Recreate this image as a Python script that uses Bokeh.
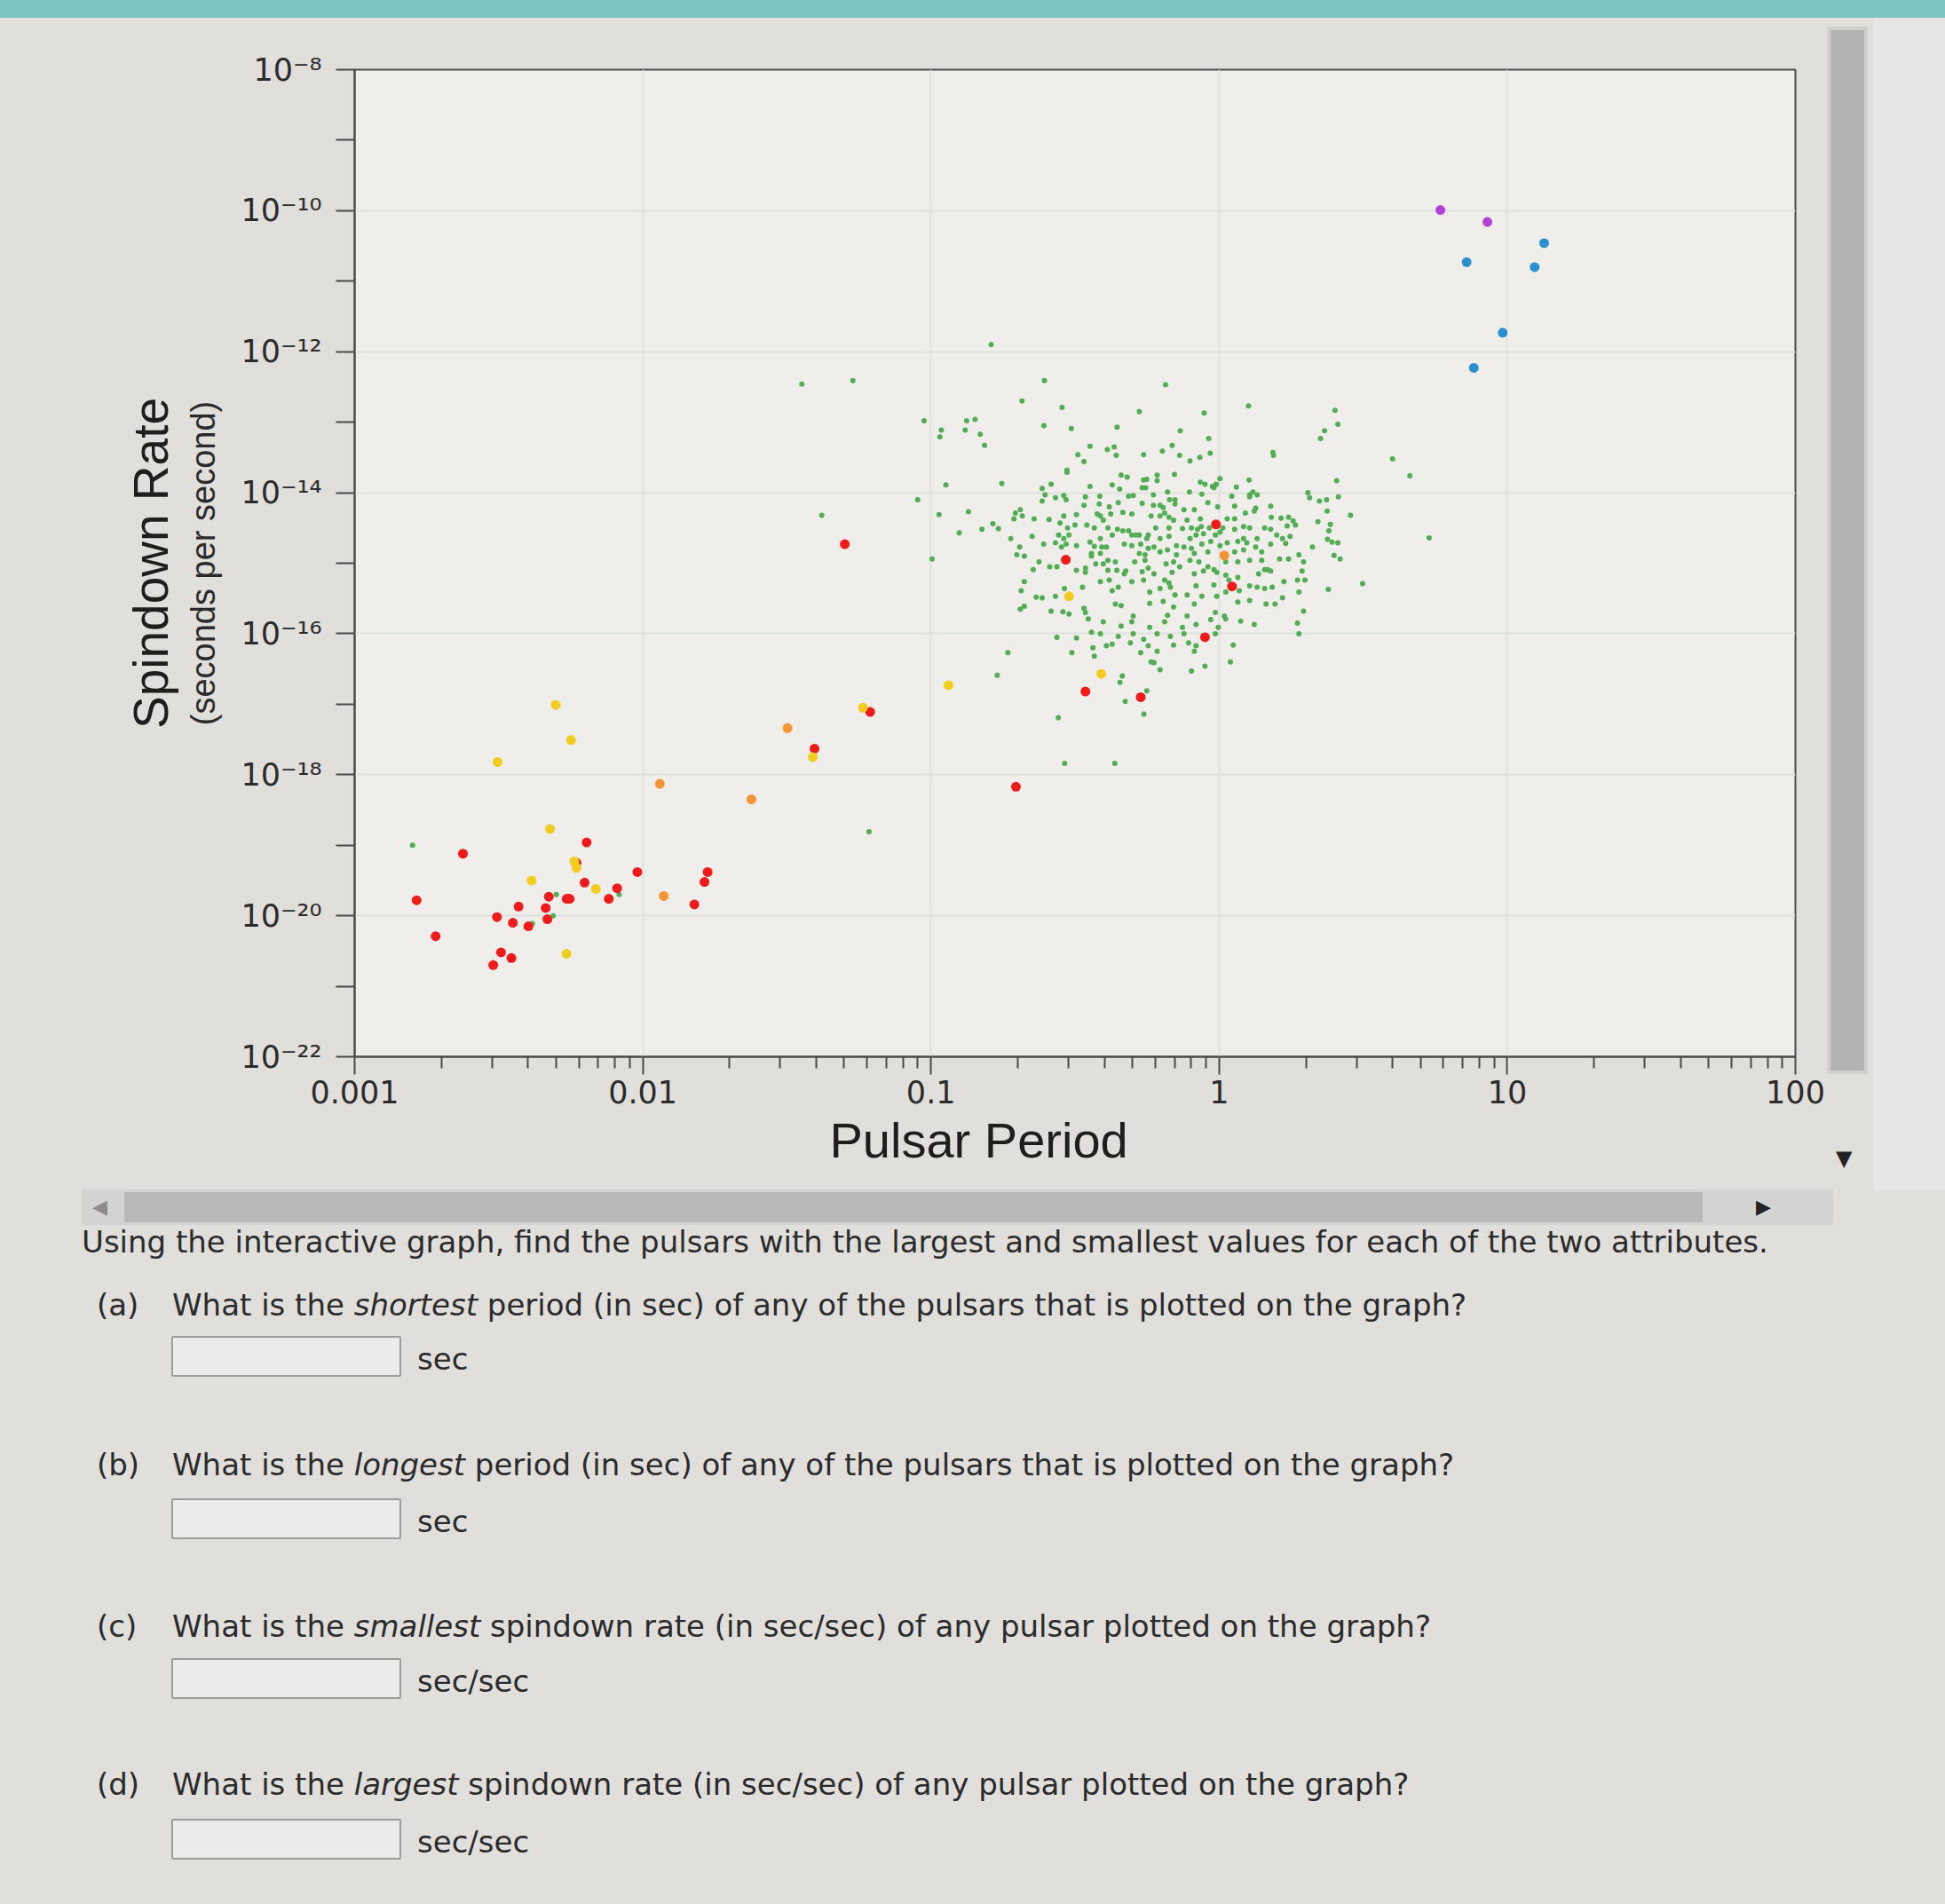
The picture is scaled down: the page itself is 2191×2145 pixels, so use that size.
import math
from bokeh.plotting import figure
from bokeh.models import FixedTicker, CustomJSTickFormatter, Title, Range1d, Div
from bokeh.layouts import column, row
from bokeh.embed import file_html
from bokeh.resources import INLINE

# ---------------------------------------------------------------------------
# DATA  (log10 of pulsar period [s], log10 of spindown rate [s/s])
# ---------------------------------------------------------------------------
normal_log10 = [  # green: ordinary pulsars
    (-1.448, -12.46), (-1.271, -12.41), (-1.379, -14.32), (-1.215, -18.81), (-2.799, -19.00),
    (-2.082, -19.70), (-2.300, -19.70), (-2.311, -20.00), (-2.383, -20.11),
    (-0.791, -11.90), (-0.606, -12.41), (-0.186, -12.47), (-0.684, -12.70), (-0.545, -12.79),
    (-0.277, -12.85), (-1.024, -12.98), (-0.876, -12.98), (-0.847, -12.96), (-0.964, -13.11),
    (-0.969, -13.21), (-0.881, -13.11), (-0.829, -13.17), (-0.814, -13.33), (-0.608, -13.05),
    (-0.513, -13.09), (-0.354, -13.07), (-0.135, -13.12), (-0.448, -13.34), (-0.388, -13.39),
    (-0.364, -13.35), (-0.197, -13.41), (-0.163, -13.33), (-0.948, -13.89), (-0.754, -13.87),
    (-1.046, -14.10), (-0.972, -14.31), (-0.870, -14.27), (-0.902, -14.57), (-0.823, -14.52),
    (-0.785, -14.44), (-0.766, -14.51), (-0.723, -14.65), (-0.707, -14.29), (-0.690, -14.24),
    (-0.712, -14.37), (-0.683, -14.33), (-0.692, -14.77), (-0.702, -14.88), (-0.676, -14.90),
    (-0.052, -12.87), (0.102, -12.77), (-0.036, -13.23), (0.402, -12.83), (0.412, -13.03),
    (0.366, -13.12), (0.352, -13.23), (0.602, -13.52), (0.662, -13.76), (0.408, -13.83),
    (0.348, -14.12), (0.373, -14.10), (0.414, -14.06), (0.375, -14.26), (0.456, -14.32),
    (0.343, -14.41), (0.386, -14.45), (0.381, -14.54), (0.376, -14.66), (0.392, -14.70),
    (0.412, -14.71), (0.729, -14.64),
    (-0.996, -14.94), (-0.676, -15.26), (-0.687, -15.39), (-0.690, -15.65), (-0.676, -15.61),
    (-0.733, -16.27), (-0.770, -16.59), (-0.336, -16.60), (-0.344, -16.69), (-0.251, -16.81),
    (-0.326, -16.96), (-0.261, -17.14), (-0.558, -17.19), (-0.536, -17.84), (-0.362, -17.84),
    (0.399, -14.89), (0.420, -14.94), (0.379, -15.37), (0.498, -15.29),
    (-0.490, -13.46), (-0.469, -13.56), (-0.357, -13.47), (-0.262, -13.46), (-0.137, -13.47),
    (-0.101, -13.55), (-0.067, -13.50), (-0.031, -13.44), (0.187, -13.43), (0.189, -13.47),
    (-0.528, -13.68), (-0.528, -13.71), (-0.340, -13.75), (-0.319, -13.78), (-0.262, -13.82),
    (-0.251, -13.81), (-0.215, -13.75), (-0.155, -13.74), (-0.065, -13.85), (-0.049, -13.88),
    (0.003, -13.80), (-0.010, -13.88), (-0.023, -13.91), (0.104, -13.82),
    (-0.614, -13.94), (-0.583, -13.88), (-0.604, -14.03), (-0.614, -14.12), (-0.568, -14.07),
    (-0.539, -14.04), (-0.531, -14.10), (-0.448, -13.91), (-0.464, -14.06), (-0.414, -14.05),
    (-0.371, -13.89), (-0.345, -13.95), (-0.314, -14.05), (-0.298, -14.04), (-0.267, -13.93),
    (-0.255, -13.93), (-0.228, -14.03), (-0.215, -13.83), (-0.179, -13.99), (-0.205, -14.18),
    (-0.153, -14.10), (-0.103, -13.99), (-0.060, -14.02), (-0.018, -13.93), (0.044, -14.05),
    (0.060, -13.92), (0.106, -14.03), (0.117, -13.99), (0.132, -14.03), (0.106, -14.06),
    (0.179, -14.19), (0.308, -14.00), (0.314, -14.07),
    (-0.469, -14.18), (-0.416, -14.16), (-0.381, -14.20), (-0.350, -14.14), (-0.267, -14.15),
    (-0.228, -14.18), (-0.194, -14.21), (-0.172, -14.10), (-0.153, -14.16), (-0.122, -14.24),
    (-0.086, -14.24), (-0.039, -14.14), (-0.005, -14.20), (0.054, -14.19), (0.091, -14.29),
    (0.122, -14.26), (0.127, -14.22), (-0.642, -14.37), (-0.590, -14.38), (-0.539, -14.33),
    (-0.495, -14.31), (-0.423, -14.30), (-0.412, -14.33), (-0.402, -14.39), (-0.376, -14.30),
    (-0.334, -14.28), (-0.303, -14.30), (-0.236, -14.33), (-0.205, -14.33), (-0.189, -14.29),
    (-0.174, -14.35), (-0.158, -14.39), (-0.111, -14.39), (-0.065, -14.37), (0.028, -14.37),
    (0.054, -14.37), (0.181, -14.35), (0.215, -14.36), (0.241, -14.35), (0.257, -14.40),
    (-0.552, -14.43), (-0.526, -14.50), (-0.500, -14.46), (-0.459, -14.46), (-0.433, -14.50),
    (-0.386, -14.50), (-0.353, -14.52), (-0.334, -14.54), (-0.314, -14.54), (-0.303, -14.60),
    (-0.277, -14.60), (-0.246, -14.60), (-0.220, -14.50), (-0.174, -14.50), (-0.174, -14.62),
    (-0.127, -14.51), (-0.096, -14.50), (-0.075, -14.52), (-0.062, -14.48), (-0.080, -14.60),
    (-0.054, -14.58), (-0.034, -14.50), (0.013, -14.50), (0.003, -14.56), (0.054, -14.52),
    (0.085, -14.48), (0.106, -14.50), (0.158, -14.50), (0.179, -14.52), (0.236, -14.47),
    (0.265, -14.46), (-0.649, -14.62), (-0.557, -14.60), (-0.539, -14.65), (-0.521, -14.60),
    (-0.412, -14.65), (-0.371, -14.60), (-0.288, -14.60), (-0.251, -14.65), (-0.205, -14.65),
    (-0.101, -14.65), (-0.013, -14.60), (0.085, -14.65), (0.132, -14.65), (0.200, -14.60),
    (0.220, -14.65), (0.246, -14.62),
    (-0.609, -14.73), (-0.568, -14.71), (-0.547, -14.77), (-0.531, -14.73), (-0.495, -14.75),
    (-0.448, -14.70), (-0.433, -14.76), (-0.407, -14.77), (-0.391, -14.77), (-0.329, -14.73),
    (-0.303, -14.75), (-0.272, -14.73), (-0.246, -14.79), (-0.226, -14.77), (-0.179, -14.81),
    (-0.148, -14.75), (-0.122, -14.77), (-0.096, -14.79), (-0.060, -14.73), (-0.029, -14.69),
    (0.003, -14.75), (0.028, -14.71), (0.065, -14.69), (0.096, -14.71), (0.127, -14.77),
    (0.179, -14.73), (0.231, -14.72), (0.324, -14.77), (-0.443, -14.86), (-0.412, -14.86),
    (-0.277, -14.86), (-0.257, -14.88), (-0.205, -14.84), (-0.148, -14.88), (-0.086, -14.86),
    (-0.039, -14.84), (0.054, -14.84), (0.085, -14.81), (0.148, -14.84),
    (-0.625, -14.98), (-0.645, -15.09), (-0.588, -15.05), (-0.563, -15.05), (-0.495, -15.10),
    (-0.464, -15.07), (-0.443, -14.90), (-0.428, -15.01), (-0.402, -15.01), (-0.386, -14.96),
    (-0.360, -14.98), (-0.355, -15.10), (-0.324, -15.11), (-0.293, -14.98), (-0.257, -14.96),
    (-0.246, -15.07), (-0.184, -15.01), (-0.158, -14.98), (-0.137, -15.05), (-0.101, -14.96),
    (-0.070, -14.98), (-0.039, -15.05), (-0.018, -15.09), (0.023, -14.98), (0.065, -14.98),
    (0.106, -14.96), (0.148, -14.96), (0.168, -15.09), (0.210, -14.94), (0.241, -14.94),
    (0.277, -14.88), (0.293, -14.98), (-0.464, -15.13), (-0.386, -15.10), (-0.329, -15.15),
    (-0.267, -15.12), (-0.226, -15.15), (-0.189, -15.24), (-0.163, -15.13), (-0.086, -15.15),
    (-0.054, -15.11), (-0.008, -15.13), (0.023, -15.17), (0.065, -15.20), (0.137, -15.15),
    (0.158, -15.09), (0.179, -15.11), (0.288, -15.11),
    (-0.635, -15.48), (-0.614, -15.49), (-0.568, -15.47), (-0.537, -15.36), (-0.474, -15.34),
    (-0.412, -15.26), (-0.381, -15.24), (-0.371, -15.39), (-0.350, -15.34), (-0.303, -15.26),
    (-0.262, -15.24), (-0.241, -15.41), (-0.205, -15.36), (-0.174, -15.28), (-0.169, -15.34),
    (-0.153, -15.45), (-0.111, -15.45), (-0.080, -15.32), (-0.060, -15.47), (-0.018, -15.31),
    (-0.008, -15.47), (0.023, -15.41), (0.070, -15.39), (0.106, -15.32), (0.132, -15.34),
    (0.158, -15.36), (0.184, -15.34), (0.225, -15.26), (0.272, -15.24), (0.277, -15.41),
    (0.298, -15.24), (0.034, -15.24),
    (-0.583, -15.68), (-0.542, -15.69), (-0.521, -15.72), (-0.469, -15.64), (-0.464, -15.70),
    (-0.360, -15.58), (-0.340, -15.60), (-0.298, -15.75), (-0.241, -15.57), (-0.194, -15.54),
    (-0.158, -15.62), (-0.179, -15.74), (-0.111, -15.75), (-0.013, -15.70), (0.018, -15.75),
    (0.023, -15.79), (0.065, -15.55), (0.106, -15.53), (0.163, -15.58), (0.194, -15.58),
    (0.220, -15.49), (0.293, -15.68), (-0.086, -15.58),
    (-0.454, -15.79), (-0.402, -15.83), (-0.340, -15.89), (-0.303, -15.83), (-0.241, -15.91),
    (-0.189, -15.83), (-0.127, -15.91), (-0.080, -15.87), (-0.029, -15.80), (-0.003, -15.91),
    (0.075, -15.82), (0.122, -15.87), (0.272, -15.85), (0.277, -16.00), (-0.563, -16.05),
    (-0.495, -16.06), (-0.443, -15.98), (-0.412, -16.00), (-0.350, -16.04), (-0.298, -16.00),
    (-0.262, -16.08), (-0.215, -16.00), (-0.169, -16.04), (-0.122, -16.00), (-0.013, -16.00),
    (-0.511, -16.27), (-0.438, -16.20), (-0.433, -16.32), (-0.391, -16.17), (-0.371, -16.15),
    (-0.308, -16.13), (-0.272, -16.27), (-0.246, -16.17), (-0.215, -16.25), (-0.158, -16.16),
    (-0.106, -16.13), (-0.086, -16.25), (-0.080, -16.17), (0.049, -16.16), (-0.236, -16.40),
    (-0.226, -16.41), (-0.049, -16.46), (0.039, -16.40), (-0.096, -16.53), (-0.205, -16.51),
]

red_log10 = [
    (-1.299, -14.73), (-1.211, -17.11), (-1.404, -17.63), (-2.624, -19.12), (-2.195, -18.96),
    (-2.230, -19.25), (-2.019, -19.38), (-1.775, -19.38), (-1.786, -19.52), (-2.202, -19.53),
    (-2.089, -19.61), (-2.326, -19.73), (-2.264, -19.76), (-2.254, -19.76), (-2.118, -19.76),
    (-2.785, -19.78), (-2.431, -19.87), (-2.337, -19.89), (-1.821, -19.84), (-2.506, -20.02),
    (-2.331, -20.05), (-2.451, -20.10), (-2.397, -20.15), (-2.719, -20.29), (-2.492, -20.52),
    (-2.456, -20.60), (-2.519, -20.70), (-0.705, -18.17),
    (-0.532, -14.95), (-0.464, -16.82), (-0.272, -16.90), (-0.011, -14.45), (0.045, -15.33),
    (-0.049, -16.05),
]

yellow_log10 = [
    (-1.236, -17.05), (-1.410, -17.75), (-2.302, -17.01), (-2.249, -17.51), (-2.504, -17.82),
    (-0.939, -16.73), (-2.322, -18.77), (-2.238, -19.23), (-2.230, -19.32), (-2.386, -19.50),
    (-2.163, -19.62), (-2.265, -20.54), (-0.521, -15.47), (-0.409, -16.57),
]

orange_log10 = [(-1.498, -17.34), (-1.941, -18.13), (-1.623, -18.35), (-1.927, -19.72), (0.018, -14.89)]

blue_log10 = [(1.128, -10.46), (0.859, -10.73), (1.095, -10.80), (0.984, -11.73), (0.884, -12.23)]

magenta_log10 = [(0.768, -9.99), (0.931, -10.16)]

x_decades = [0.001, 0.01, 0.1, 1, 10, 100]
y_label_exponents = [-22, -20, -18, -16, -14, -12, -10, -8]

intro_text = ("Using the interactive graph, find the pulsars with the largest and smallest "
              "values for each of the two attributes.")
questions = [
    ("(a)", "What is the", "shortest", "period (in sec) of any of the pulsars that is plotted on the graph?", "sec"),
    ("(b)", "What is the", "longest", "period (in sec) of any of the pulsars that is plotted on the graph?", "sec"),
    ("(c)", "What is the", "smallest", "spindown rate (in sec/sec) of any pulsar plotted on the graph?", "sec/sec"),
    ("(d)", "What is the", "largest", "spindown rate (in sec/sec) of any pulsar plotted on the graph?", "sec/sec"),
]

# ---------------------------------------------------------------------------
W = 2191
TEAL_H = 20
CHART_H = 1320
CHART_W = 2058
TEXT_H = 2145 - TEAL_H - CHART_H

BG = "#e0dfdc"
PLOT_BG = "#efeeea"
AXIS_C = "#4a4a4a"
TEXT_C = "#2b2b2b"

GREEN = "#52ad55"
RED = "#f01a1a"
YELLOW = "#f0cd1e"
ORANGE = "#f39532"
BLUE = "#2a8fd0"
MAGENTA = "#b540d8"


def unpack(pairs):
    return [10.0 ** a for a, _ in pairs], [10.0 ** b for _, b in pairs]


# top teal band
teal = Div(text="", width=W, height=TEAL_H, margin=0,
           styles={"background-color": "#7cc4c2"})

# main chart
p = figure(width=CHART_W, height=CHART_H, x_axis_type="log", y_axis_type="log",
           x_range=Range1d(1e-3, 1e2), y_range=Range1d(1e-22, 1e-8),
           output_backend="svg", toolbar_location=None,
           min_border_left=399, min_border_right=CHART_W - 2022, min_border_top=58,
           min_border_bottom=150)
p.background_fill_color = PLOT_BG
p.border_fill_color = BG
p.outline_line_color = AXIS_C
p.outline_line_width = 2

xax = p.xaxis[0]
yax = p.yaxis[0]
xax.ticker = FixedTicker(ticks=x_decades,
                         minor_ticks=[k * d for d in x_decades[:-1] for k in range(2, 10)])
yax.ticker = FixedTicker(ticks=[10.0 ** e for e in y_label_exponents],
                         minor_ticks=[10.0 ** (e + 1) for e in y_label_exponents[:-1]])
xax.formatter = CustomJSTickFormatter(code="""
const e = Math.round(Math.log10(tick));
return e < 0 ? tick.toFixed(-e) : String(Math.round(tick));
""")
yax.formatter = CustomJSTickFormatter(code="""
const e = Math.round(Math.log10(tick));
const sup = {"-": "\u207b", "0": "\u2070", "1": "\u00b9", "2": "\u00b2", "3": "\u00b3",
             "4": "\u2074", "5": "\u2075", "6": "\u2076", "7": "\u2077", "8": "\u2078", "9": "\u2079"};
let s = "";
for (const c of String(e)) { s += sup[c]; }
return "10" + s;
""")

for ax in (xax, yax):
    ax.axis_line_color = AXIS_C
    ax.axis_line_width = 2
    ax.major_tick_line_color = AXIS_C
    ax.major_tick_line_width = 2
    ax.minor_tick_line_color = AXIS_C
    ax.minor_tick_line_width = 2
    ax.major_tick_in = 0
    ax.minor_tick_in = 0
    ax.major_label_text_font = "DejaVu Sans"
    ax.major_label_text_font_size = "35px"
    ax.major_label_text_color = TEXT_C

yax.major_tick_out = 21
yax.minor_tick_out = 21
yax.major_label_standoff = 16
xax.major_tick_out = 20
xax.minor_tick_out = 13
xax.major_label_standoff = 6

yax.axis_label = "(seconds per second)"
yax.axis_label_text_font = "Liberation Sans"
yax.axis_label_text_font_size = "38px"
yax.axis_label_text_font_style = "normal"
yax.axis_label_text_color = TEXT_C
yax.axis_label_standoff = 18

p.add_layout(Title(text="Spindown Rate", align="center", text_font="Liberation Sans",
                   text_font_size="55px", text_font_style="normal", text_color="#1e1e1e"), "left")
p.add_layout(Title(text="Pulsar Period", align="left", offset=535, text_font="Liberation Sans",
                   text_font_size="56px", text_font_style="normal", text_color="#1e1e1e"), "below")

p.xgrid.grid_line_color = "#dfe1dc"
p.ygrid.grid_line_color = "#dfe1dc"
p.xgrid.grid_line_width = 2
p.ygrid.grid_line_width = 2

gx, gy = unpack(normal_log10)
p.scatter(gx, gy, size=6, fill_color=GREEN, line_color=None)
for pairs, col in ((red_log10, RED), (yellow_log10, YELLOW), (orange_log10, ORANGE),
                   (blue_log10, BLUE), (magenta_log10, MAGENTA)):
    xs, ys = unpack(pairs)
    p.scatter(xs, ys, size=11, fill_color=col, line_color=None)

# vertical scroll bar to the right of the graph
side_w = W - CHART_W
side_html = (f'<div style="position:relative;width:{side_w}px;height:{CHART_H}px;background:{BG};">'
             f'<div style="position:absolute;left:0px;top:10px;width:46px;height:1180px;'
             f'background:#cfcfce;"></div>'
             f'<div style="position:absolute;left:4px;top:14px;width:38px;height:1172px;'
             f'background:#b3b3b2;"></div>'
             f'<div style="position:absolute;left:52px;top:0px;width:{side_w - 52}px;height:{CHART_H}px;'
             f'background:#e6e6e5;"></div>'
             f'<div style="position:absolute;left:10px;top:1268px;font-size:24px;color:#222;'
             f'font-family:\'DejaVu Sans\';">&#9660;</div>'
             '</div>')
side = Div(text=side_html, width=side_w, height=CHART_H, margin=0)

# ---------------------------------------------------------------------------
# question panel below the graph (HTML text)
FS = 34
LH = 40


def txt(left, cy, content, extra=""):
    return (f'<div style="position:absolute;left:{left}px;top:{cy - LH // 2}px;'
            f'line-height:{LH}px;white-space:nowrap;{extra}">{content}</div>')


parts = []
parts.append('<div style="position:absolute;left:92px;top:0px;width:1973px;height:40px;'
             'background:#d3d3d2;"></div>')
parts.append('<div style="position:absolute;left:140px;top:3px;width:1778px;height:34px;'
             'background:#b9b9b8;"></div>')
parts.append(txt(104, 20, "&#9664;", "font-size:22px;color:#8c8c8c;"))
parts.append(txt(1978, 20, "&#9654;", "font-size:22px;color:#222;"))
parts.append(txt(92, 59, intro_text))

q_y = [130, 310, 492, 670]
box_top = [165, 348, 528, 709]
for (lab, pre, ital, post, unit), yy, bt in zip(questions, q_y, box_top):
    parts.append(txt(109, yy, lab))
    parts.append(txt(194, yy, f"{pre} <i>{ital}</i> {post}"))
    parts.append(f'<div style="position:absolute;left:193px;top:{bt}px;width:259px;height:46px;'
                 f'background:#ebebea;border:2px solid #9c9c9c;border-radius:2px;"></div>')
    parts.append(txt(470, bt + 26, unit))

html = (f'<div style="position:relative;width:{W}px;height:{TEXT_H}px;background:{BG};'
        f'font-family:\'DejaVu Sans\';font-size:{FS}px;color:{TEXT_C};overflow:hidden;">'
        + "".join(parts) + "</div>")

panel = Div(text=html, width=W, height=TEXT_H, margin=0)

layout = column(teal, row(p, side, spacing=0), panel, spacing=0,
                styles={"background-color": BG})
with open("out.html", "w", encoding="utf-8") as f:
    f.write(file_html(layout, INLINE))
